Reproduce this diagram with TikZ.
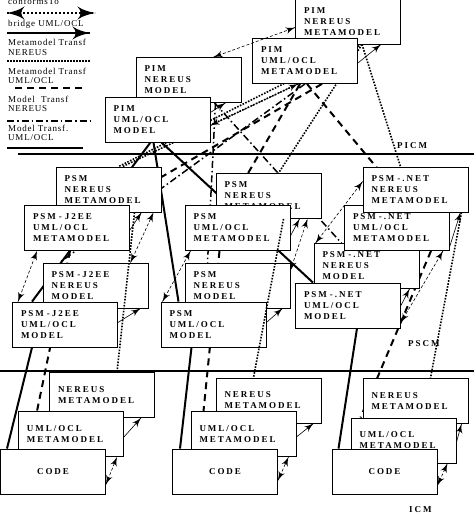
\documentclass[tikz,border=0pt]{standalone}
\usepackage{fontspec}
\usepackage{tikz}
\usetikzlibrary{arrows}
\usetikzlibrary{decorations.markings}
\newfontfamily\capsfont[LetterSpace=22]{Liberation Serif}
\newfontfamily\legfont[LetterSpace=9]{Liberation Serif}
\tikzset{box/.style = {draw, fill=white, line width=0.8pt, minimum width=105pt, minimum height=45pt,
                       inner sep=0pt, text width=88pt, align=left,
                       font=\capsfont\bfseries\fontsize{9}{11}\selectfont}}
\tikzset{codebox/.style = {box, align=center}}
\tikzset{legtext/.style = {anchor=base west, inner sep=0pt, font=\legfont\fontsize{9}{10}\selectfont}}
\tikzset{level/.style = {anchor=base west, inner sep=0pt, font=\capsfont\bfseries\fontsize{9}{11}\selectfont}}
\tikzset{tip/.style = {decoration={markings, mark=at position 1 with {\arrow[scale=#1]{latex'}}},
                       postaction={decorate}}}
\tikzset{tips/.style = {decoration={markings,
                                    mark=at position 0 with {\arrowreversed[scale=#1]{latex'}},
                                    mark=at position 1 with {\arrow[scale=#1]{latex'}}},
                        postaction={decorate}}}
\tikzset{conf/.style = {line width=0.6pt, dash pattern=on 3pt off 2pt, tips=2}}
\tikzset{bridge/.style = {line width=0.6pt, tip=2}}
\tikzset{mmnereus/.style = {line width=1.6pt, dash pattern=on 1.6pt off 1.4pt}}
\tikzset{mmuml/.style = {line width=2pt, dash pattern=on 7pt off 5pt}}
\tikzset{mnereus/.style = {line width=1.5pt, dash pattern=on 7pt off 3pt on 1.5pt off 3pt}}
\tikzset{muml/.style = {line width=2pt}}

\begin{document}
\begin{tikzpicture}[x=1pt, y=-1pt]
  \useasboundingbox (0,0) rectangle (474,520);

  % legend
  \node [legtext] (lconf) at (8,4.5) {conformsTo};
  \coordinate (l1a) at (7,13);   \coordinate (l1b) at (95,13);
  \draw [line width=2pt, dash pattern=on 2pt off 2pt, tips=2] (l1a) -- (l1b);
  \node [legtext] (lbridge) at (8,26) {bridge UML/OCL};
  \coordinate (l2a) at (7,33);   \coordinate (l2b) at (90,33);
  \draw [line width=2pt, tip=2] (l2a) -- (l2b);
  \node [legtext] (lmmn) at (8,45.5) {Metamodel Transf};
  \node [legtext] (lmmn2) at (8,55) {NEREUS};
  \coordinate (l3a) at (7,61);   \coordinate (l3b) at (90,61);
  \draw [mmnereus] (l3a) -- (l3b);
  \node [legtext] (lmmu) at (8,74) {Metamodel Transf};
  \node [legtext] (lmmu2) at (8,83.5) {UML/OCL};
  \coordinate (l4a) at (15,88);  \coordinate (l4b) at (85,88);
  \draw [mmuml] (l4a) -- (l4b);
  \node [legtext] (lmn) at (8,102) {Model\ \ Transf};
  \node [legtext] (lmn2) at (8,111.5) {NEREUS};
  \coordinate (l5a) at (7,121);  \coordinate (l5b) at (90,121);
  \draw [mnereus] (l5a) -- (l5b);
  \node [legtext] (lmu) at (8,131) {Model Transf.};
  \node [legtext] (lmu2) at (8,140.5) {UML/OCL};
  \coordinate (l6a) at (7,148);  \coordinate (l6b) at (83,148);
  \draw [muml] (l6a) -- (l6b);

  % levels
  \coordinate (picma) at (18,154);  \coordinate (picmb) at (474,154);
  \draw [line width=1.5pt] (picma) -- (picmb);
  \node [level] (picm) at (397,148) {PICM};
  \coordinate (pscma) at (0,371);   \coordinate (pscmb) at (474,371);
  \draw [line width=1.5pt] (pscma) -- (pscmb);
  \node [level] (pscm) at (408,346) {PSCM};
  \node [level] (icm) at (409,512) {ICM};

  % anchors of the boxes (placed first, drawn later)
  \path (348,21.5)    node [box, draw=none, fill=none] (pimnm) {}
        (305,61)      node [box, draw=none, fill=none] (pimum) {}
        (188.5,80)    node [box, draw=none, fill=none] (pimnmod) {}
        (157.5,119.5) node [box, draw=none, fill=none] (pimumod) {}
        (108.5,189.5) node [box, draw=none, fill=none] (psmnmL) {}
        (77,228)      node [box, draw=none, fill=none] (psmumL) {}
        (95.5,285.5)  node [box, draw=none, fill=none] (psmnmodL) {}
        (65,324.5)    node [box, draw=none, fill=none] (psmumodL) {}
        (268.5,196)   node [box, draw=none, fill=none] (psmnmM) {}
        (237.5,228)   node [box, draw=none, fill=none] (psmumM) {}
        (237.5,285.5) node [box, draw=none, fill=none] (psmnmodM) {}
        (213.5,324.5) node [box, draw=none, fill=none] (psmumodM) {}
        (415.5,189.5) node [box, draw=none, fill=none] (psmnmR) {}
        (397,228)     node [box, draw=none, fill=none] (psmumR) {}
        (366.5,266)   node [box, draw=none, fill=none] (psmnmodR) {}
        (348,305.5)   node [box, draw=none, fill=none] (psmumodR) {}
        (102,395)     node [box, draw=none, fill=none] (cnmL) {}
        (71,434)      node [box, draw=none, fill=none] (cumL) {}
        (53,471.5)    node [box, draw=none, fill=none] (codeL) {}
        (268.5,400.5) node [box, draw=none, fill=none] (cnmM) {}
        (243.5,434)   node [box, draw=none, fill=none] (cumM) {}
        (225,471.5)   node [box, draw=none, fill=none] (codeM) {}
        (415.5,401)   node [box, draw=none, fill=none] (cnmR) {}
        (403.5,440.5) node [box, draw=none, fill=none] (cumR) {}
        (384.5,471.5) node [box, draw=none, fill=none] (codeR) {};

  % metamodel transf NEREUS
  \draw [mmnereus] ([xshift=14pt]pimnm.south) -- ([xshift=10pt]psmnmL.north);
  \draw [mmnereus] ([xshift=-7pt]pimum.south) -- ([xshift=14pt]psmnmL.north);
  \draw [mmnereus] ([xshift=14pt]pimnm.south) -- ([xshift=10pt]psmnmM.north);
  \draw [mmnereus] ([xshift=14pt]pimnm.south) -- ([xshift=-15pt]psmnmR.north);
  \draw [mmnereus] ([xshift=46pt]psmnmR.south) -- ([xshift=15pt]cnmR.north);

  % metamodel transf UML/OCL
  \draw [mmuml] ([xshift=17pt]pimum.south) -- ([xshift=36pt]psmumL.north);
  \draw [mmuml] ([xshift=-5pt]pimum.south) -- ([xshift=-8pt]psmumM.north);
  \draw [mmuml] ([xshift=2pt]pimum.south) -- ([xshift=11pt]psmumR.north);
  \draw [mmuml] ([xshift=-7pt]psmumL.south) -- ([xshift=-34pt]cumL.north);
  \draw [mmuml] ([xshift=-18pt]psmumM.south) -- ([xshift=-40pt]cumM.north);
  \draw [mmuml] ([xshift=34pt]psmumR.south) -- ([xshift=-43pt]cumR.north);

  % model transf NEREUS
  \draw [mnereus] ([xshift=27pt]pimnmod.south) -- ([xshift=-30pt]psmnmodM.north);
  \draw [mnereus] ([xshift=26pt]pimnmod.south) -- ([xshift=-25pt]psmnmodR.north);
  \draw [mnereus] (pimum.south) -- ([xshift=-36pt]psmnmodL.north);

  % model transf UML/OCL
  \draw [muml] ([xshift=-7pt]pimumod.south) -- ([xshift=-33pt]psmumodL.north);
  \draw [muml] ([xshift=-4pt]pimumod.south) -- ([xshift=-35pt]psmumodM.north);
  \draw [muml] ([xshift=4pt]pimumod.south) -- ([xshift=-35pt]psmumodR.north);
  \draw [muml] ([xshift=-33pt]psmumodL.south) -- ([xshift=-46pt]codeL.north);
  \draw [muml] ([xshift=-22pt]psmumodM.south) -- ([xshift=-45pt]codeM.north);
  \draw [muml] ([xshift=9pt]psmumodR.south) -- ([xshift=-46pt]codeR.north);

  % boxes
  \node [box] at (pimnm)    {PIM\\NEREUS\\METAMODEL};
  \node [box] at (pimum)    {PIM\\UML/OCL\\METAMODEL};
  \node [box] at (pimnmod)  {PIM\\NEREUS\\MODEL};
  \node [box] at (pimumod)  {PIM\\UML/OCL\\MODEL};
  \node [box] at (psmnmL)   {PSM\\NEREUS\\METAMODEL};
  \node [box] at (psmumL)   {PSM - J2EE\\UML/OCL\\METAMODEL};
  \node [box] at (psmnmodL) {PSM -J2EE\\NEREUS\\MODEL};
  \node [box] at (psmumodL) {PSM -J2EE\\UML/OCL\\MODEL};
  \node [box] at (psmnmM)   {PSM\\NEREUS\\METAMODEL};
  \node [box] at (psmumM)   {PSM\\UML/OCL\\METAMODEL};
  \node [box] at (psmnmodM) {PSM\\NEREUS\\MODEL};
  \node [box] at (psmumodM) {PSM\\UML/OCL\\MODEL};
  \node [box] at (psmnmodR) {PSM -.NET\\NEREUS\\MODEL};
  \node [box] at (psmumR)   {PSM -.NET\\UML/OCL\\METAMODEL};
  \node [box] at (psmnmR)   {PSM -.NET\\NEREUS\\METAMODEL};
  \node [box] at (psmumodR) {PSM -.NET\\UML/OCL\\MODEL};
  \node [box] at (cnmL)     {NEREUS\\METAMODEL};
  \node [box] at (cumL)     {UML/OCL\\METAMODEL};
  \node [codebox] at (codeL) {CODE};
  \node [box] at (cnmM)     {NEREUS\\METAMODEL};
  \node [box] at (cumM)     {UML/OCL\\METAMODEL};
  \node [codebox] at (codeM) {CODE};
  \node [box] at (cnmR)     {NEREUS\\METAMODEL};
  \node [box] at (cumR)     {UML/OCL\\METAMODEL};
  \node [codebox] at (codeR) {CODE};

  % NEREUS metamodels down to the code level
  \draw [mmnereus] ([xshift=26pt]psmnmL.south) -- ([xshift=15pt]cnmL.north);
  \draw [mmnereus] ([xshift=15pt]psmnmM.south) -- ([xshift=-15pt]cnmM.north);

  % conformsTo and bridges
  \draw [conf] ([xshift=25pt]pimnmod.north) -- ([yshift=-6pt]pimnm.west);
  \draw [bridge] ([yshift=-2pt]pimum.east) -- ([xshift=33pt]pimnm.south);
  \draw [conf] ([yshift=-6pt]pimumod.east) -- ([xshift=-7pt]pimum.south);
  \draw [bridge] ([yshift=7pt]pimumod.east) -- ([xshift=37pt]pimnmod.south);

  \draw [conf] ([xshift=-47pt]psmumodL.north) -- ([xshift=-40pt]psmumL.south);
  \draw [bridge] ([yshift=2pt]psmumodL.east) -- ([xshift=45pt]psmnmodL.south);
  \draw [conf] ([xshift=35pt]psmnmodL.north) -- ([xshift=45pt]psmnmL.south);
  \draw [bridge] ([yshift=-2pt]psmumL.east) -- ([xshift=33pt]psmnmL.south);

  \draw [conf] ([xshift=-51pt]psmumodM.north) -- ([xshift=-47pt]psmumM.south);
  \draw [bridge] ([yshift=2pt]psmumodM.east) -- ([xshift=45pt]psmnmodM.south);
  \draw [conf] ([yshift=15pt]psmnmodM.east) -- ([xshift=39pt]psmnmM.south);
  \draw [bridge] ([yshift=-8pt]psmumM.east) -- ([xshift=31pt]psmnmM.south);

  \draw [conf] ([xshift=-51pt]psmnmodR.north) -- ([yshift=8pt]psmnmR.west);
  \draw [conf] ([yshift=-17pt]psmumodR.east) -- ([xshift=46pt]psmumR.south);
  \draw [bridge] (psmumodR.east) -- ([xshift=43pt]psmnmodR.south);
  \draw [bridge] ([yshift=-18pt]psmumR.east) -- ([xshift=45pt]psmnmR.south);

  \draw [bridge] ([yshift=-3pt]cumL.east) -- ([xshift=39pt]cnmL.south);
  \draw [conf] ([yshift=-13pt]codeL.east) -- ([xshift=46pt]cumL.south);
  \draw [bridge] ([yshift=-3pt]cumM.east) -- ([xshift=45pt]cnmM.south);
  \draw [conf] ([yshift=-9pt]codeM.east) -- ([xshift=45pt]cumM.south);
  \draw [bridge] ([yshift=-2pt]cumR.east) -- ([xshift=46pt]cnmR.south);
  \draw [conf] ([yshift=-14pt]codeR.east) -- ([xshift=44pt]cumR.south);
\end{tikzpicture}
\end{document}
